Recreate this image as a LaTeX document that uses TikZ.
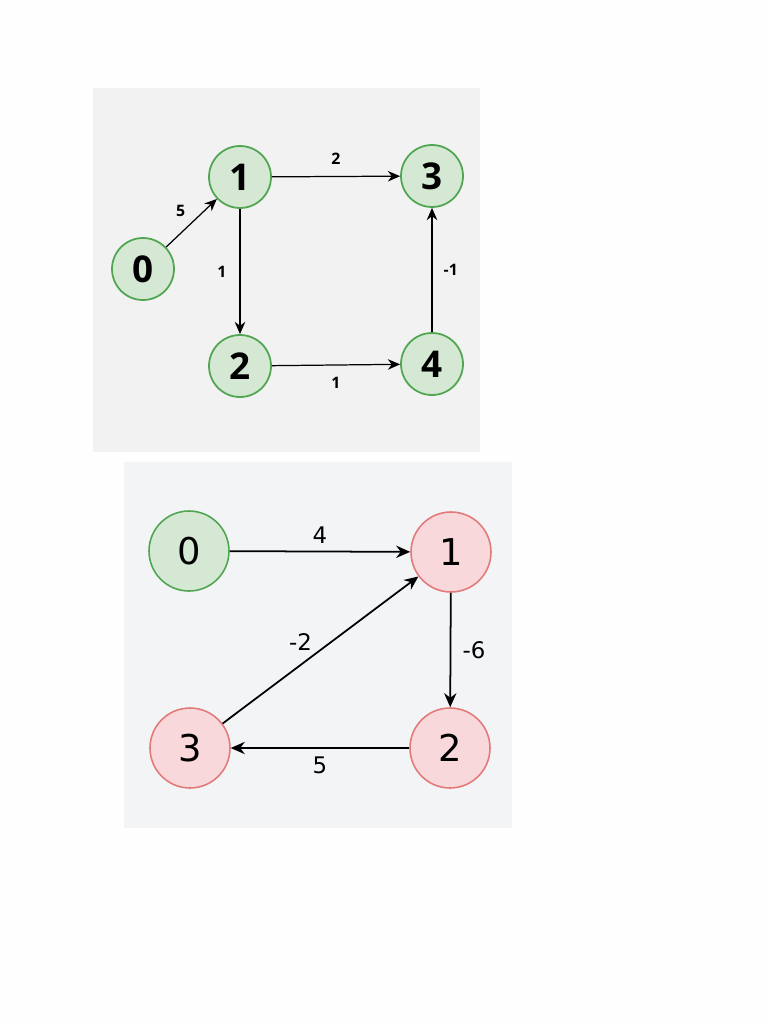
\documentclass[tikz,border=0pt]{standalone}
\usepackage{fontspec}
\setmainfont{DejaVu Sans}
\newfontfamily\topfont{Open Sans}
\usetikzlibrary{arrows.meta}
\definecolor{nodegreen}{RGB}{213,232,212}
\definecolor{rimgreen}{RGB}{80,165,80}
\definecolor{nodepink}{RGB}{249,216,219}
\definecolor{rimpink}{RGB}{226,122,122}
\definecolor{panelgray}{RGB}{242,242,242}
\definecolor{panelcool}{RGB}{243,244,246}

\begin{document}
\begin{tikzpicture}[x=0.02cm,y=-0.02cm,
  tnode/.style={circle,fill=nodegreen,draw=rimgreen,line width=1pt,minimum size=1.24cm,
    inner sep=0pt,font=\topfont\bfseries\fontsize{21}{21}\selectfont},
  bnode/.style={circle,draw,line width=0.9pt,minimum size=1.6cm,inner sep=0pt,
    font=\fontsize{21}{21}\selectfont},
  bgreen/.style={bnode,fill=nodegreen,draw=rimgreen},
  bpink/.style={bnode,fill=nodepink,draw=rimpink},
  tarr/.style={-{Stealth[length=7pt,width=6pt]},black,line width=0.7pt},
  barr/.style={-{Stealth[length=8pt,width=7pt]},black,line width=1pt},
  tlab/.style={font=\topfont\bfseries\fontsize{9}{9}\selectfont},
  blab/.style={font=\fontsize{13}{13}\selectfont}
]
\useasboundingbox (0,0) rectangle (768,1024);
\fill[white!99.5!black] (0,0) rectangle (768,1024);
% top graph
\fill[panelgray] (93,88) rectangle (480,452);
\node[tnode] (t0) at (143,269) {0};
\node[tnode] (t1) at (240,177) {1};
\node[tnode] (t3) at (432,176) {3};
\node[tnode] (t2) at (240,366) {2};
\node[tnode] (t4) at (432,364) {4};
\draw[tarr] (t0) -- node[tlab,above left=0pt]{5} (t1);
\draw[tarr] (t1) -- node[tlab,above=3pt]{2} (t3);
\draw[tarr] (t1) -- node[tlab,left=4pt]{1} (t2);
\draw[tarr] (t4) -- node[tlab,right=3pt]{-1} (t3);
\draw[tarr] (t2) -- node[tlab,below=3pt]{1} (t4);
% bottom graph
\fill[panelcool] (124,462) rectangle (512,828);
\node[bgreen] (b0) at (189,551) {0};
\node[bpink] (b1) at (451,552) {1};
\node[bpink] (b3) at (190,748) {3};
\node[bpink] (b2) at (450,748) {2};
\draw[barr] (b0) -- node[blab,above=1pt]{4} (b1);
\draw[barr] (b3) -- node[blab,xshift=-0.4cm,yshift=0.16cm]{-2} (b1);
\draw[barr] (b1) -- node[blab,right=3pt]{-6} (b2);
\draw[barr] (b2) -- node[blab,below=1pt]{5} (b3);
\end{tikzpicture}
\end{document}
